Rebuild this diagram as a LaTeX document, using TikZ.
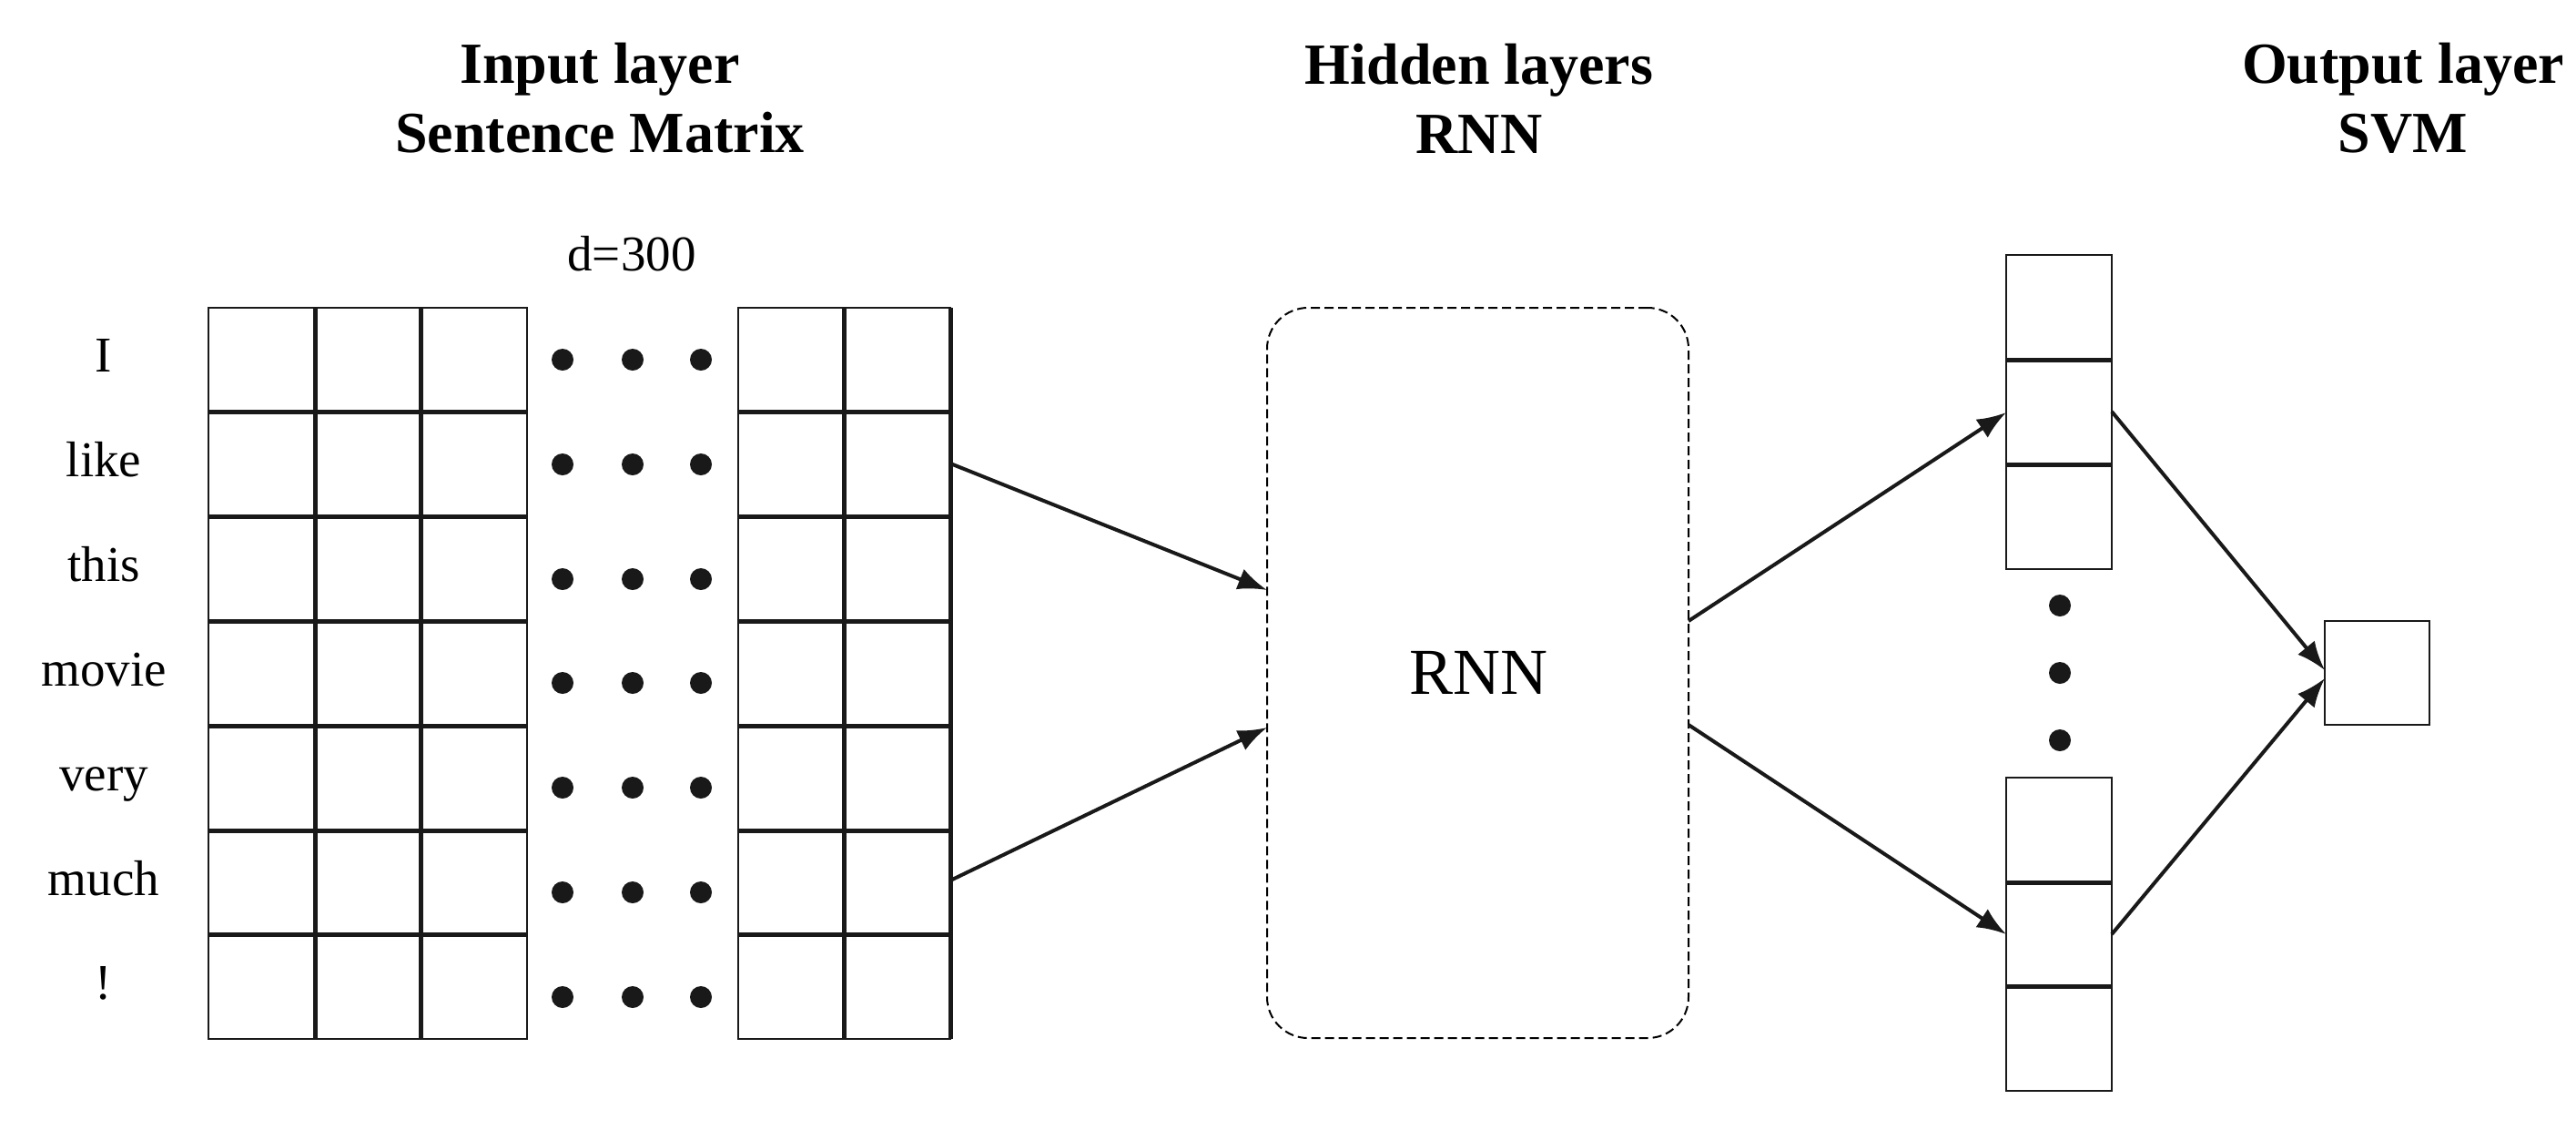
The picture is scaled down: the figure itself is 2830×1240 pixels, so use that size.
\documentclass[tikz,border=0pt]{standalone}
\usepackage{fontspec}
\setmainfont{Liberation Serif}
\usetikzlibrary{arrows.meta}
\begin{document}
\begin{tikzpicture}[x=1pt,y=-1pt,
  word/.style={font=\fontsize{55}{60}\selectfont,anchor=center},
  ttl/.style={font=\fontsize{64}{76}\selectfont\bfseries,align=center,anchor=center},
  grid/.style={line width=5pt,color=black!90},
  frame/.style={line width=2.5pt,color=black!90},
  arr/.style={line width=4pt,color=black!90,-{Latex[length=32pt,width=24pt]}},
  dot/.style={circle,fill=black!90,minimum size=24pt,inner sep=0pt},
  cell/.style={draw,line width=2pt,color=black!90,minimum width=116pt,inner sep=0pt}]
\useasboundingbox (0,0) rectangle (2830,1240);
% titles
\node[ttl] (t1) at (659,108) {Input layer\\Sentence Matrix};
\node[ttl] (t2) at (1625,108) {Hidden layers\\RNN};
\node[ttl] (t3) at (2640,108) {Output layer\\SVM};
\node[word] (d) at (694,279) {d=300};
% left grid
\foreach \y in {452,567,682,797,912,1026} \draw[grid] (229,\y) -- (579,\y);
\foreach \x in {346,462} \draw[grid] (\x,338) -- (\x,1141);
\draw[frame] (229,338) rectangle (579,1141);
% right grid
\foreach \y in {452,567,682,797,912,1026} \draw[grid] (811,\y) -- (1044,\y);
\draw[grid] (927,338) -- (927,1141);
\draw[grid] (1044,338) -- (1044,1141);
\draw[frame] (811,338) rectangle (1044,1141);
% words and dots
\foreach \w/\y [count=\i] in {I/396,like/511,this/626,movie/741,very/856,much/971,!/1085}{
  \node[word] (w\i) at (114,\y) {\strut\w};
}
\foreach \y [count=\i] in {395,510,636,750,865,980,1095}{
  \node[dot] (da\i) at (618,\y) {};
  \node[dot] (db\i) at (695,\y) {};
  \node[dot] (dc\i) at (770,\y) {};
}
\coordinate (s1) at (1044,509);
\coordinate (s2) at (1044,967);
% RNN
\node[draw,dash pattern=on 10pt off 5pt,line width=2pt,rounded corners=45pt,minimum width=463pt,minimum height=802pt,inner sep=0pt] (rnn) at (1623.5,739) {};
\node[font=\fontsize{72}{80}\selectfont] (rnnt) at (1624,739) {RNN};
\coordinate (r1) at (1392,648);
\coordinate (r2) at (1392,799);
\coordinate (r3) at (1855,682);
\coordinate (r4) at (1855,796);
\draw[arr] (s1) -- (r1);
\draw[arr] (s2) -- (r2);
% output columns
\draw[frame] (2204,280) rectangle (2320,625);
\draw[grid] (2204,395) -- (2320,395);
\draw[grid] (2204,510) -- (2320,510);
\draw[frame] (2204,854) rectangle (2320,1198);
\draw[grid] (2204,969) -- (2320,969);
\draw[grid] (2204,1083) -- (2320,1083);
\node[dot] (v1) at (2263,665) {};
\node[dot] (v2) at (2263,739) {};
\node[dot] (v3) at (2263,813) {};
\coordinate (c1in) at (2204,453);
\coordinate (c1out) at (2320,452);
\coordinate (c2in) at (2204,1026);
\coordinate (c2out) at (2320,1026);
\draw[arr] (r3) -- (c1in);
\draw[arr] (r4) -- (c2in);
% output box
\node[draw,line width=1.5pt,color=black!90,minimum width=115pt,minimum height=114pt,inner sep=0pt] (out) at (2611.5,739) {};
\draw[arr] (c1out) -- (2554,736);
\draw[arr] (c2out) -- (2554,745);
\end{tikzpicture}
\end{document}
